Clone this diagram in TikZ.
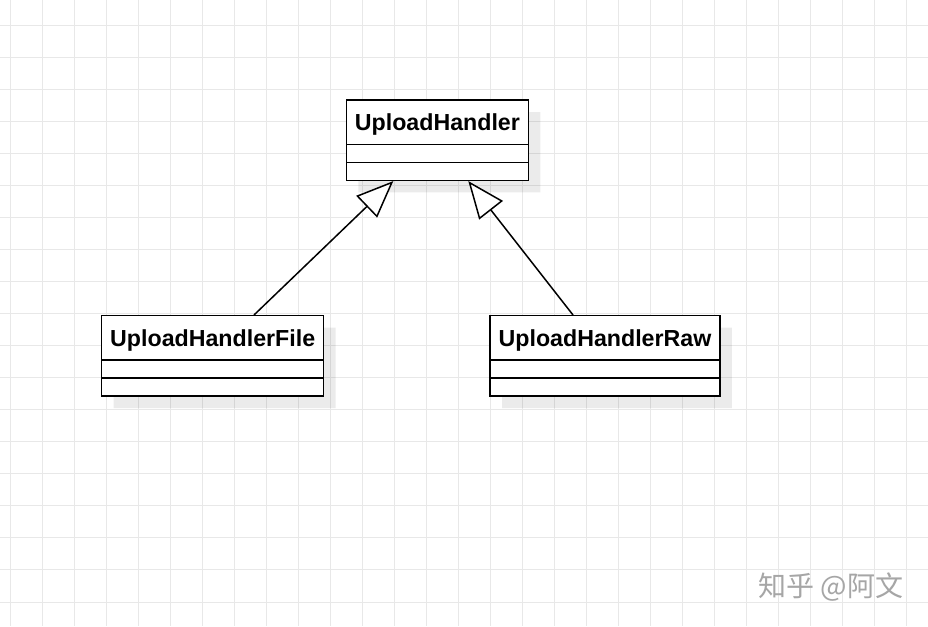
\documentclass[tikz,border=0pt]{standalone}
\usepackage{fontspec}
\setmainfont{Liberation Sans}
\newfontfamily\cjk{Noto Sans CJK SC}
\usetikzlibrary{shapes.multipart, shadows, arrows.meta}

\begin{document}
\begin{tikzpicture}[x = 1pt, y = 1pt, >= {Triangle[length = 37pt, width = 30pt, fill = white]},
    gridline/.style = {line width = 1pt, color = black!9},
    umlclass/.style = {draw, line width = 1.5pt, fill = white, anchor = north,
      rectangle split, rectangle split parts = 3,
      rectangle split empty part height = 8.4pt, rectangle split empty part depth = 0pt,
      inner xsep = 8.5pt, inner ysep = 4pt,
      font = \fontsize{23.2pt}{28pt}\selectfont\bfseries,
      drop shadow = {shadow xshift = 12pt, shadow yshift = -12pt, fill = black, opacity = 0.08}},
    inherit/.style = {->, line width = 1.5pt}]
          \fill[white] (0,0) rectangle (928,626);
          \useasboundingbox (0,0) rectangle (928,626);
          \foreach \gx in {10.5, 42.5, ..., 906.5}
            \draw[gridline] (\gx, 0) -- (\gx, 626);
          \foreach \gy in {24, 56, ..., 600}
            \draw[gridline] (0, \gy) -- (928, \gy);
          \node[umlclass] (handler) at (437.4, 526.7) {\rule[-9.3pt]{0pt}{35pt}UploadHandler\nodepart{second}\nodepart{third}};
          \node[umlclass] (handlerfile) at (212.7, 311) {\rule[-9.3pt]{0pt}{35pt}UploadHandlerFile\nodepart{second}\nodepart{third}};
          \node[umlclass] (handlerraw) at (605, 311) {\rule[-9.3pt]{0pt}{35pt}UploadHandlerRaw\nodepart{second}\nodepart{third}};
          \draw[inherit] ([xshift = 41.3pt]handlerfile.north) -- ([xshift = -44.1pt]handler.south);
          \draw[inherit] ([xshift = -32pt]handlerraw.north) -- ([xshift = 30.9pt]handler.south);
          \node[text = black!35, font = \cjk\fontsize{28pt}{30pt}\selectfont] (mark) at (831, 39) {知乎 @阿文};
        \end{tikzpicture}
\end{document}
